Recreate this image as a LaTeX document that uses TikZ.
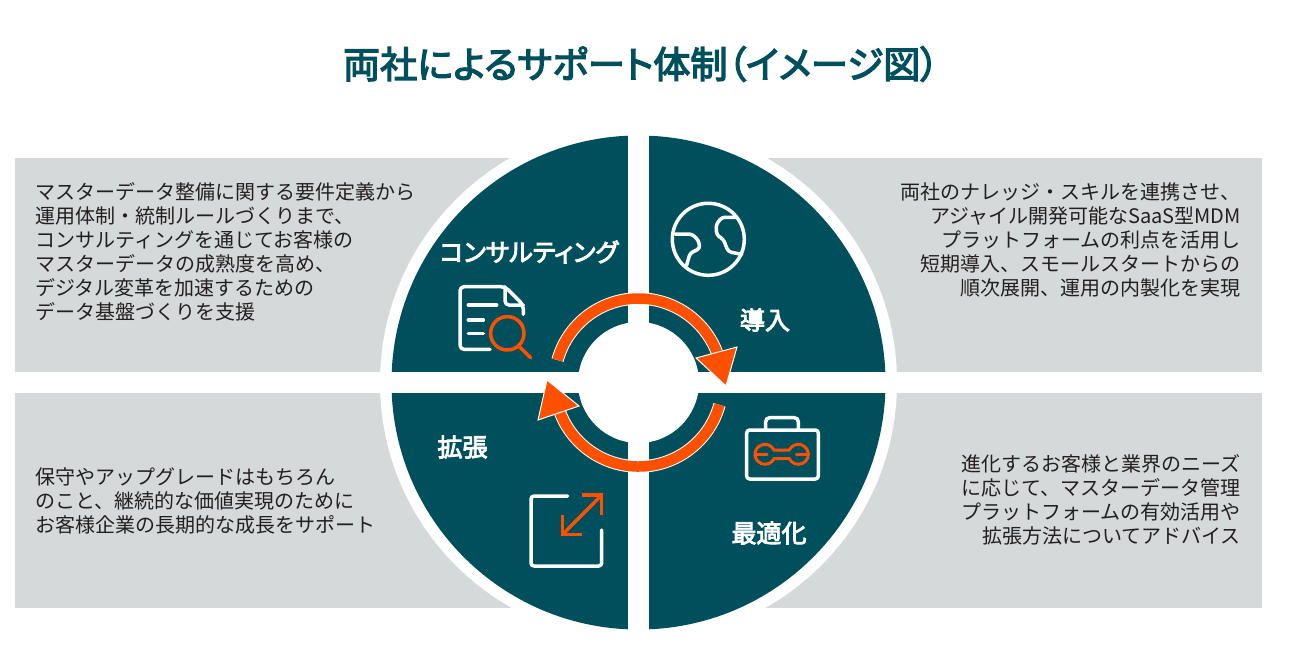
\documentclass[tikz,border=0pt]{standalone}
\usepackage{fontspec}
\setmainfont{Noto Sans CJK JP}
\newfontfamily\headfont[RawFeature=+palt,FakeBold=3.5]{Noto Sans CJK JP}
\newfontfamily\labelfont[FakeBold=3.5]{Noto Sans CJK JP}
\definecolor{tealdark}{HTML}{004F5C}
\definecolor{panelgray}{HTML}{D6D9DA}
\definecolor{arroworange}{HTML}{FF5000}
\definecolor{bodyink}{HTML}{231F20}
\tikzset{
	panel/.style={fill=panelgray, draw=none},
	bodytext/.style={text=bodyink, inner sep=0pt, font=\fontsize{20}{24}\selectfont},
	quadlabel/.style={text=white, inner sep=0pt, font=\headfont\fontsize{25}{25}\selectfont},
	iconwhite/.style={draw=white, line width=3.5pt, line cap=round, line join=round},
	iconorange/.style={draw=arroworange, line width=3.5pt, line cap=round, line join=round},
	arrowhead/.style={fill=arroworange, draw=white, line width=1pt, line join=miter}
}
\begin{document}
\begin{tikzpicture}[x=1pt, y=1pt, yscale=-1]
			\useasboundingbox (0,0) rectangle (1295,646);
			\fill[white] (0,0) rectangle (1295,646);
			
			\node[text=tealdark, inner sep=0pt, font=\headfont\fontsize{37.1}{37.1}\selectfont] (title) at (641,64){両社によるサポート体制（イメージ図）};
			
			% panels
			\fill[panel] (15,158) rectangle (639,372);
			\fill[panel] (639,158) rectangle (1262,372);
			\fill[panel] (15,393) rectangle (639,608);
			\fill[panel] (639,393) rectangle (1262,608);
			
			% disc
			\coordinate (hub) at (638.5,382.5);
			\fill[white] (hub) circle (258.5);
			\fill[tealdark] (hub) circle (247);
			\fill[white] (628,125) rectangle (649,640);
			\fill[white] (380,372) rectangle (897,393);
			\fill[white] (hub) circle (60.5);
			
			% cycle arrows
			\draw[white, line width=12.5pt] ([shift={(195.5:84)}]hub) arc (195.5:339:84);
			\draw[arroworange, line width=10.5pt] ([shift={(195.5:84)}]hub) arc (195.5:339:84);
			\draw[arrowhead] (726,386) -- (696,358) -- (737,347) -- cycle;
			\draw[white, line width=12.5pt] ([shift={(15.4:84)}]hub) arc (15.4:159:84);
			\draw[arroworange, line width=10.5pt] ([shift={(15.4:84)}]hub) arc (15.4:159:84);
			\draw[arrowhead] (547,380) -- (538,420) -- (579,406) -- cycle;
			
			% quadrant labels
			\node[quadlabel] (consult) at (529,252){コンサルティング};
			\node[quadlabel] (intro) at (765,320){導入};
			\node[quadlabel] (expand) at (462.5,447){拡張};
			\node[quadlabel, font=\labelfont\fontsize{25}{25}\selectfont] (optimize) at (769,533){最適化};
			
			% texts
			\node[bodytext, anchor=north west, align=left] (consulttext) at (35,182.5){マスターデータ整備に関する要件定義から\\運用体制・統制ルールづくりまで、\\コンサルティングを通じてお客様の\\マスターデータの成熟度を高め、\\デジタル変革を加速するための\\データ基盤づくりを支援};
			\node[bodytext, anchor=north east, align=right] (introtext) at (1241,182.5){両社のナレッジ・スキルを連携させ、\\アジャイル開発可能なSaaS型MDM\\プラットフォームの利点を活用し\\短期導入、スモールスタートからの\\順次展開、運用の内製化を実現};
			\node[bodytext, anchor=north west, align=left] (expandtext) at (35,467){保守やアップグレードはもちろん\\のこと、継続的な価値実現のために\\お客様企業の長期的な成長をサポート};
			\node[bodytext, anchor=north east, align=right] (optimizetext) at (1241,454){進化するお客様と業界のニーズ\\に応じて、マスターデータ管理\\プラットフォームの有効活用や\\拡張方法についてアドバイス};
			
			% globe icon
			\draw[iconwhite] (708.3,239.3) circle (36);
			\draw[iconwhite, rounded corners=3pt] (675,234) -- (691.7,234) -- (698.3,240) -- (700,248.3) -- (690,253.3) -- (686.7,265);
			\draw[iconwhite, rounded corners=3pt] (736.7,217.3) -- (721.7,217.3) -- (716,225) -- (716.7,235) -- (723.3,239.3) -- (728.3,251.7) -- (741.7,254.3);
			
			% document icon
			\draw[iconwhite, rounded corners=4pt] (490,349.3) -- (460,349.3) -- (460,286.7) -- (505,286.7) -- (523.3,305) -- (523.3,314.3);
			\draw[iconwhite, rounded corners=4pt] (505,286.7) -- (505,305) -- (523.3,305);
			\draw[iconwhite] (468.3,305) -- (496.7,305);
			\draw[iconwhite] (468.3,320) -- (483.3,320);
			\draw[iconwhite] (468.3,333.3) -- (483.3,333.3);
			\draw[iconorange] (507.3,333.3) circle (16.7);
			\draw[iconorange] (519.3,346.7) -- (530.7,357.7);
			
			% expand icon
			\draw[iconwhite, rounded corners=3pt] (567.7,496) -- (531,496) -- (531,566) -- (601.7,566) -- (601.7,530);
			\draw[iconorange] (562.7,534.3) -- (601.7,495);
			\draw[iconorange, line cap=butt, line join=miter] (581.7,495) -- (601.7,495) -- (601.7,515);
			\draw[iconorange, line cap=butt, line join=miter] (562.7,515) -- (562.7,534.3) -- (581.7,534.3);
			
			% toolbox icon
			\draw[iconwhite, rounded corners=3pt] (746.7,430) rectangle (818.3,479);
			\draw[iconwhite, rounded corners=4pt] (765.7,430) -- (765.7,417.7) -- (798.3,417.7) -- (798.3,430);
			\draw[iconorange, line width=3pt] (774.06,450.07) arc (-25:-335:10) -- (789.24,458.53) arc (155:-155:10) -- cycle;
			\draw[iconorange, line width=3pt] (755,454.3) -- (767,454.3);
			\draw[iconorange, line width=3pt] (808.3,454.3) -- (796.3,454.3);
			\end{tikzpicture}
\end{document}
